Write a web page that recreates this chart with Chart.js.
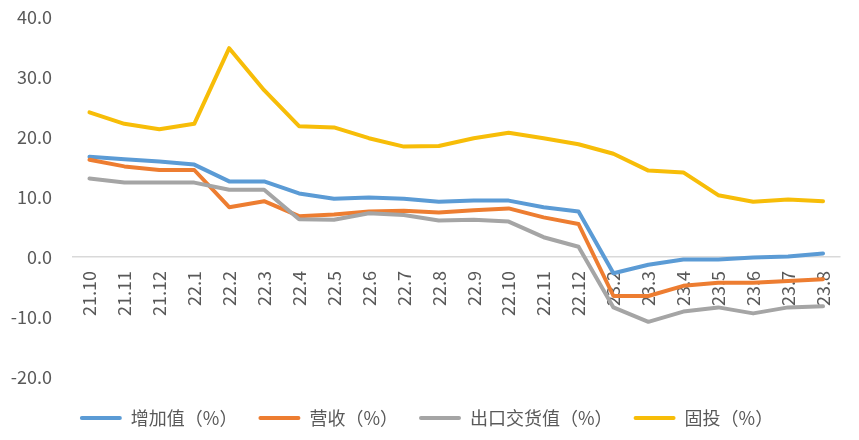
<!DOCTYPE html>
<html>
<head>
<meta charset="utf-8">
<script src="https://cdn.jsdelivr.net/npm/chart.js@4"></script>
<style>
  html, body { margin: 0; padding: 0; background: #fff; }
  #wrap { width: 859px; height: 440px; }
</style>
</head>
<body>
<div id="wrap"><canvas id="chart"></canvas></div>
<script>
const months = [
    "21.10", "21.11", "21.12",
    "22.1", "22.2", "22.3", "22.4", "22.5", "22.6", "22.7", "22.8", "22.9", "22.10", "22.11", "22.12",
    "23.2", "23.3", "23.4", "23.5", "23.6", "23.7", "23.8",
]

// values
const addedValue = [16.7, 16.3, 15.9, 15.4, 12.6, 12.6, 10.6, 9.7, 9.9, 9.7, 9.2, 9.4, 9.4, 8.3, 7.6, -2.7, -1.3, -0.4, -0.4, -0.1, 0.1, 0.6]
const revenue = [16.2, 15.1, 14.5, 14.5, 8.3, 9.3, 6.8, 7.1, 7.6, 7.7, 7.4, 7.8, 8.1, 6.6, 5.5, -6.5, -6.5, -4.8, -4.3, -4.3, -4.0, -3.7]
const exportValue = [13.1, 12.4, 12.4, 12.4, 11.2, 11.2, 6.3, 6.2, 7.3, 7.0, 6.1, 6.2, 5.9, 3.3, 1.7, -8.4, -10.8, -9.1, -8.4, -9.4, -8.4, -8.2]
const fixedInvest = [24.1, 22.2, 21.3, 22.2, 34.8, 27.8, 21.8, 21.6, 19.8, 18.4, 18.5, 19.8, 20.7, 19.8, 18.8, 17.2, 14.4, 14.1, 10.3, 9.2, 9.6, 9.3]

const seriesNames = ["增加值（%）", "营收（%）", "出口交货值（%）", "固投（%）"]
const seriesColors = ["#5b9bd5", "#ed7d31", "#a5a5a5", "#f7bd08"]
const yTicks = { min: -20, max: 40, step: 10 }

const textColor = "#595959"
Chart.defaults.font.family = "'Noto Sans CJK SC', 'Noto Sans', sans-serif"
Chart.defaults.font.size = 18
Chart.defaults.color = textColor

const allSeries = [addedValue, revenue, exportValue, fixedInvest]
const datasets = allSeries.map((values, i) => ({
    label: seriesNames[i],
    data: values,
    borderColor: seriesColors[i],
    backgroundColor: seriesColors[i],
    borderWidth: 4,
    pointRadius: 0,
    tension: 0,
    borderJoinStyle: "round",
    borderCapStyle: "round",
    // later series sit on top, like the original
    order: allSeries.length - i,
}))

new Chart(document.getElementById("chart"), {
    type: "line",
    data: { labels: months, datasets },
    options: {
        responsive: true,
        maintainAspectRatio: false,
        animation: false,
        layout: { padding: { top: 17, right: 16, bottom: 3, left: 10 } },
        plugins: {
            tooltip: { enabled: false },
            legend: {
                position: "bottom",
                // empty title only used as a spacer above the items
                title: { display: true, text: " ", padding: 0, font: { size: 11, lineHeight: 1 } },
                labels: {
                    boxWidth: 42,
                    boxHeight: 4,
                    padding: 21,
                    color: textColor,
                    sort: (a, b) => a.datasetIndex - b.datasetIndex,
                    generateLabels: (chart) => {
                        const items = Chart.defaults.plugins.legend.labels.generateLabels(chart)
                        items.forEach(item => {
                            item.lineWidth = 0
                            item.borderRadius = 2
                        })
                        return items
                    },
                    useBorderRadius: true,
                },
            },
        },
        scales: {
            x: {
                position: { y: 0 },
                offset: true,
                grid: { display: false, drawTicks: false },
                border: { display: false },
                ticks: {
                    autoSkip: false,
                    maxRotation: 90,
                    minRotation: 90,
                    padding: 14,
                    color: textColor,
                },
            },
            y: {
                min: yTicks.min,
                max: yTicks.max,
                border: { display: false },
                grid: {
                    drawTicks: false,
                    lineWidth: 1.5,
                    color: (ctx) => ctx.tick && ctx.tick.value === 0 ? "#d9d9d9" : "rgba(0,0,0,0)",
                },
                ticks: {
                    stepSize: yTicks.step,
                    padding: 20,
                    color: textColor,
                    callback: (value) => value.toFixed(1),
                },
                afterFit: (scale) => {
                    // fixed gutter like the original, no extra room above/below
                    scale.width = 62
                    scale.paddingTop = 0
                    scale.paddingBottom = 0
                },
            },
        },
    },
})
</script>
</body>
</html>
